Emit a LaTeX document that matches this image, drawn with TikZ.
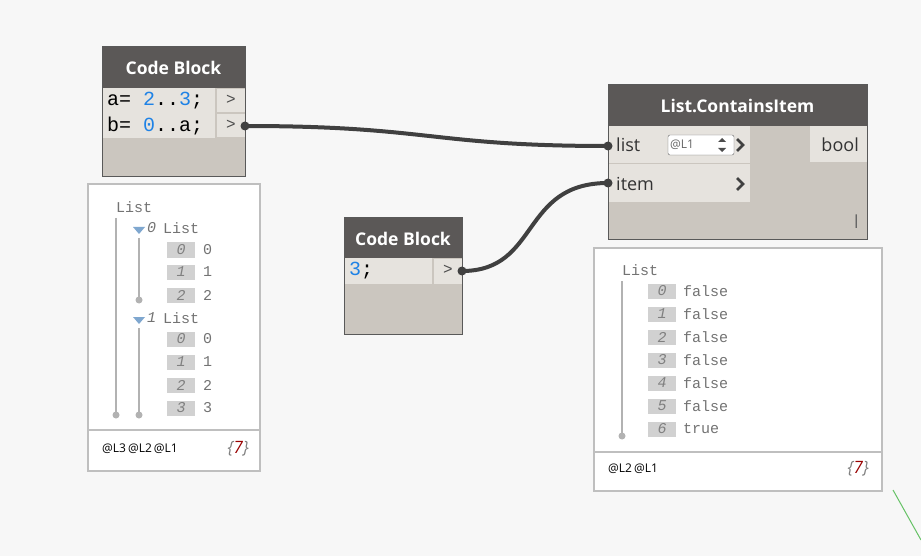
\documentclass[tikz,border=0pt]{standalone}
\usepackage{fontspec}
\setmainfont{Open Sans}
\setmonofont{Liberation Mono}
\begin{document}
\begin{tikzpicture}[x=1pt,y=-1pt,
  title/.style={font=\bfseries\fontsize{17.5}{17.5}\selectfont,text=white},
  code/.style={font=\ttfamily\fontsize{20}{20}\selectfont,anchor=west,inner sep=0},
  wl/.style={font=\ttfamily\fontsize{15}{15}\selectfont,text=black!55,anchor=west,inner sep=0},
  idx/.style={fill=black!18,minimum width=28,minimum height=15,inner sep=0,font=\ttfamily\itshape\fontsize{15}{15}\selectfont,text=black!50,align=right},
  tree/.style={draw=black!30,line width=2},
  dot/.style={circle,fill=black!30,inner sep=0,minimum size=7},
  wire/.style={draw=black!75,line width=4},
  lbl/.style={font=\fontsize{18}{18}\selectfont,anchor=west,inner sep=0,text=black!80}]
\definecolor{bg}{HTML}{F7F7F7}
\definecolor{hd}{HTML}{5B5857}
\definecolor{rw}{HTML}{E6E3DE}
\definecolor{bd}{HTML}{CBC6BF}
\definecolor{bl}{HTML}{1E82E6}
\definecolor{tri}{HTML}{7FA7CF}
\fill[bg] (0,0) rectangle (921,556);
\useasboundingbox (0,0) rectangle (921,556);
\draw[green!60!black!60,line width=1] (893,490) -- (921,540);
% Code block 1
\fill[bd] (102,47) rectangle (245,177);
\fill[hd] (102,47) rectangle (245,88);
\fill[rw] (103,88) rectangle (215,138);
\fill[rw] (217,89) rectangle (245,112);\fill[rw] (217,114) rectangle (245,137);
\draw[black!65,line width=1] (102,47) rectangle (245,177);
\node[title] (t1) at (173.5,68) {Code Block};
\node[code] (c1a) at (107,101) {a= \textcolor{bl}{2}..\textcolor{bl}{3};};
\node[code] (c1b) at (107,126) {b= \textcolor{bl}{0}..a;};
\node[font=\ttfamily\fontsize{16}{16}\selectfont,text=black!70] (p1a) at (231,100) {>};
\node[font=\ttfamily\fontsize{16}{16}\selectfont,text=black!70] (p1b) at (231,125) {>};
\coordinate (o1) at (245,126);
% Watch 1
\draw[black!25,fill=white,line width=1.2] (88,184) rectangle (260,471);
\draw[black!25,line width=1.2] (88,430) -- (260,430);
\node[wl] (w1) at (116,207) {List};
\draw[tree] (116,218) -- (116,415); \node[dot] (d1) at (116,415) {};
\fill[tri] (133,227) -- (145,227) -- (139,234) -- cycle;
\node[wl,font=\ttfamily\itshape\fontsize{15}{15}\selectfont] (i0) at (147,228) {0};
\node[wl] (l0) at (163,228) {List};
\draw[tree] (139,238) -- (139,300); \node[dot] (d2) at (139,300) {};
\node[idx] (a0) at (181,250) {0}; \node[wl] at (203,250) {0};
\node[idx] (a1) at (181,272) {1}; \node[wl] at (203,272) {1};
\node[idx] (a2) at (181,295) {2}; \node[wl] at (203,295) {2};
\fill[tri] (133,317) -- (145,317) -- (139,324) -- cycle;
\node[wl,font=\ttfamily\itshape\fontsize{15}{15}\selectfont] (i1) at (147,318) {1};
\node[wl] (l1) at (163,318) {List};
\draw[tree] (139,328) -- (139,415); \node[dot] (d3) at (139,415) {};
\node[idx] (b0) at (181,339) {0}; \node[wl] at (203,339) {0};
\node[idx] (b1) at (181,362) {1}; \node[wl] at (203,362) {1};
\node[idx] (b2) at (181,385) {2}; \node[wl] at (203,385) {2};
\node[idx] (b3) at (181,408) {3}; \node[wl] at (203,408) {3};
\node[anchor=west,inner sep=0,font=\fontsize{12}{12}\selectfont] (lv1) at (102,449) {@L3\,@L2\,@L1};
\node[anchor=east,inner sep=0,font=\itshape\fontsize{17}{17}\selectfont,text=black!50] (n1) at (249,449) {\{\textcolor{red!60!black}{7}\}};
% Code block 2
\fill[bd] (344,218) rectangle (462,334);
\fill[hd] (344,218) rectangle (462,258);
\fill[rw] (345,258) rectangle (432,284);
\fill[rw] (434,259) rectangle (462,284);
\draw[black!65,line width=1] (344,218) rectangle (462,334);
\node[title] (t2) at (403,239) {Code Block};
\node[code] (c2) at (349,271) {\textcolor{bl}{3};};
\node[font=\ttfamily\fontsize{16}{16}\selectfont,text=black!70] (p2) at (448,270) {>};
\coordinate (o2) at (462,271);
% ContainsItem
\fill[bd] (608,85) rectangle (867,240);
\fill[hd] (608,85) rectangle (867,126);
\fill[rw] (609,126) rectangle (750,202);
\draw[bd,line width=1] (609,164) -- (750,164);
\fill[rw] (810,126) rectangle (867,162);
\draw[black!65,line width=1] (608,85) rectangle (867,240);
\node[title] (t3) at (737.5,106) {List.ContainsItem};
\node[lbl] (in1) at (616,145) {list};
\node[lbl] (in2) at (616,184) {item};
\node[lbl,anchor=east] (out) at (859,145) {bool};
\draw[black!60,fill=white,rounded corners=2] (668,135) rectangle (734,155);
\node[anchor=west,inner sep=0,font=\fontsize{12}{12}\selectfont,text=black!60] (lvl) at (670,145) {@L1};
\fill[black!70] (718,142) -- (726,142) -- (722,138) -- cycle;
\fill[black!70] (718,148) -- (726,148) -- (722,152) -- cycle;
\draw[black!75,line width=2.5] (737,139) -- (743,145) -- (737,151);
\draw[black!75,line width=2.5] (737,178) -- (743,184) -- (737,190);
\node[lbl,text=black!60] (bar) at (854,222) {l};
\coordinate (i1p) at (608,146);
\coordinate (i2p) at (608,183);
% Wires
\draw[wire] (o1) .. controls (430,126) and (430,146) .. (i1p);
\draw[wire] (o2) .. controls (540,271) and (520,183) .. (i2p);
\fill[black!75] (o1) circle (4.5); \fill[black!75] (o2) circle (4.5);
\fill[black!75] (i1p) circle (4.5); \fill[black!75] (i2p) circle (4.5);
% Watch 2
\draw[black!25,fill=white,line width=1.2] (594,248) rectangle (882,491);
\draw[black!25,line width=1.2] (594,452) -- (882,452);
\node[wl] (w2) at (622,270) {List};
\draw[tree] (622,281) -- (622,436); \node[dot] (d4) at (622,436) {};
\foreach \i/\v in {0/false,1/false,2/false,3/false,4/false,5/false,6/true}{
  \node[idx] (r\i) at (662,{291+\i*23}) {\i};
  \node[wl] (v\i) at (683,{291+\i*23}) {\v};
}
\node[anchor=west,inner sep=0,font=\fontsize{12}{12}\selectfont] (lv2) at (608,469) {@L2\,@L1};
\node[anchor=east,inner sep=0,font=\itshape\fontsize{17}{17}\selectfont,text=black!50] (n2) at (869,469) {\{\textcolor{red!60!black}{7}\}};
\end{tikzpicture}
\end{document}
